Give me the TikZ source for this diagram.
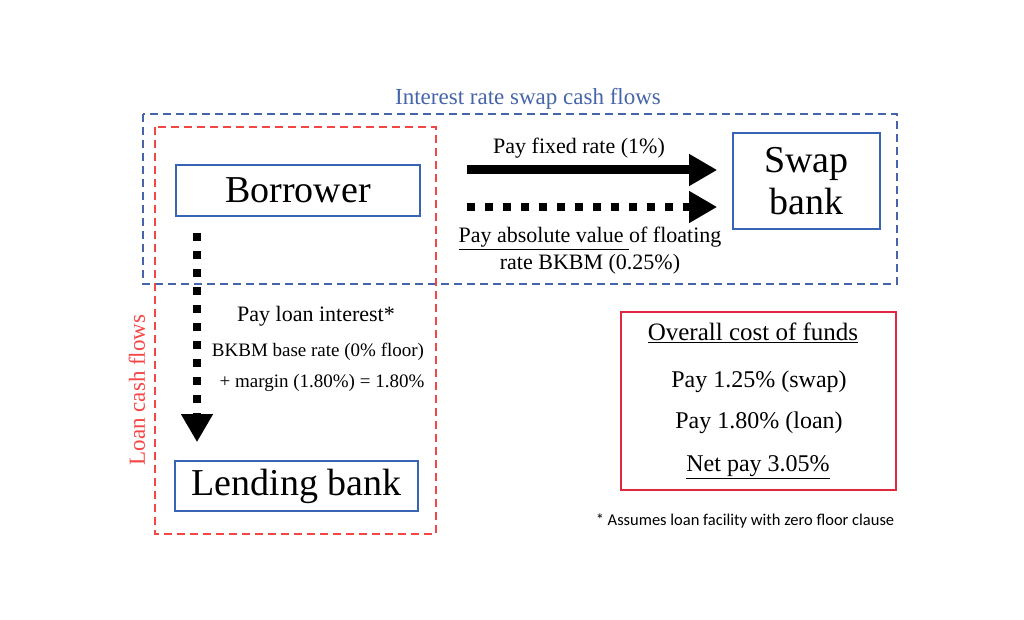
\documentclass[tikz,border=0pt]{standalone}
\usepackage{fontspec}
\setmainfont{Liberation Serif}
\newfontfamily\notefont{Carlito}
\usetikzlibrary{arrows.meta}
\definecolor{swapblue}{RGB}{70,100,170}
\definecolor{boxblue}{RGB}{55,100,180}
\definecolor{loanred}{RGB}{245,70,70}
\definecolor{costred}{RGB}{225,40,65}
\tikzset{
  fs/.style={font=\fontsize{#1}{1.2*#1}\selectfont},
  entity/.style={draw=boxblue, line width=1.6pt, align=center, inner sep=0pt},
  solidflow/.style={line width=9pt, -{Triangle[length=28pt,width=30pt]}},
  dotflow/.style={line width=8pt, dash pattern=on 8pt off 10pt, -{Triangle[length=28pt,width=30pt]}},
  lbl/.style={align=center, inner sep=0pt},
}
\begin{document}
\begin{tikzpicture}[x=1pt,y=-1pt]
\useasboundingbox (0,0) rectangle (1024,620);
% group frames
\draw[swapblue, line width=1.5pt, dash pattern=on 8pt off 5pt] (143,114) rectangle (897,284);
\draw[loanred, line width=1.5pt, dash pattern=on 8pt off 5pt] (155,127) rectangle (436,534);
\node[lbl, text=swapblue, font=\fontsize{23}{23}\selectfont] (swaptitle) at (528,99) {Interest rate swap cash flows};
\node[lbl, text=loanred, font=\fontsize{23}{23}\selectfont, rotate=90] (loantitle) at (137,390) {Loan cash flows};
% entities
\node[entity, minimum width=244pt, minimum height=51pt, font=\fontsize{38}{38}\selectfont] (borrower) at (298,190.5) {Borrower};
\node[entity, minimum width=147pt, minimum height=96pt, font=\fontsize{38}{42}\selectfont] (swap) at (806.5,181) {Swap\\bank};
\node[entity, minimum width=243pt, minimum height=50pt, font=\fontsize{38}{38}\selectfont] (lending) at (296.5,486) {Lending bank};
% swap flows
\coordinate (fixA) at (467,170);
\coordinate (floatA) at (467,207);
\draw[solidflow] (fixA) -- ([xshift=-15pt]swap.west |- fixA);
\draw[dotflow] (floatA) -- ([xshift=-15pt]swap.west |- floatA);
\node[lbl, font=\fontsize{22}{22}\selectfont] (fixlbl) at (579,148) {Pay fixed rate (1\%)};
\node[lbl, font=\fontsize{22}{27}\selectfont] (floatlbl) at (590,251) {\underline{Pay absolute value }of floating\\rate BKBM (0.25\%)};
% loan flow
\coordinate (loanA) at (197,233);
\draw[dotflow] (loanA) -- ([yshift=18pt]lending.north -| loanA);
\node[lbl, font=\fontsize{22}{22}\selectfont] (loanlbl) at (316,316) {Pay loan interest*};
\node[lbl, font=\fontsize{19}{19}\selectfont] (baselbl) at (318,352) {BKBM base rate (0\% floor)};
\node[lbl, font=\fontsize{19}{19}\selectfont] (marginlbl) at (322,383) {+ margin (1.80\%) = 1.80\%};
% cost summary
\node[draw=costred, line width=2pt, minimum width=275pt, minimum height=178pt, inner sep=0pt] (cost) at (758.5,401) {};
\node[lbl, font=\fontsize{25}{25}\selectfont] (costtitle) at (753,333) {\underline{Overall cost of funds}};
\node[lbl, font=\fontsize{24}{24}\selectfont] (cswap) at (759,382) {Pay 1.25\% (swap)};
\node[lbl, font=\fontsize{24}{24}\selectfont] (cloan) at (759,423) {Pay 1.80\% (loan)};
\node[lbl, font=\fontsize{24}{24}\selectfont] (cnet) at (758,467) {\underline{Net pay 3.05\%}};
\node[lbl, font=\notefont\fontsize{16.5}{16.5}\selectfont] (note) at (745,521) {* Assumes loan facility with zero floor clause};
\end{tikzpicture}
\end{document}
